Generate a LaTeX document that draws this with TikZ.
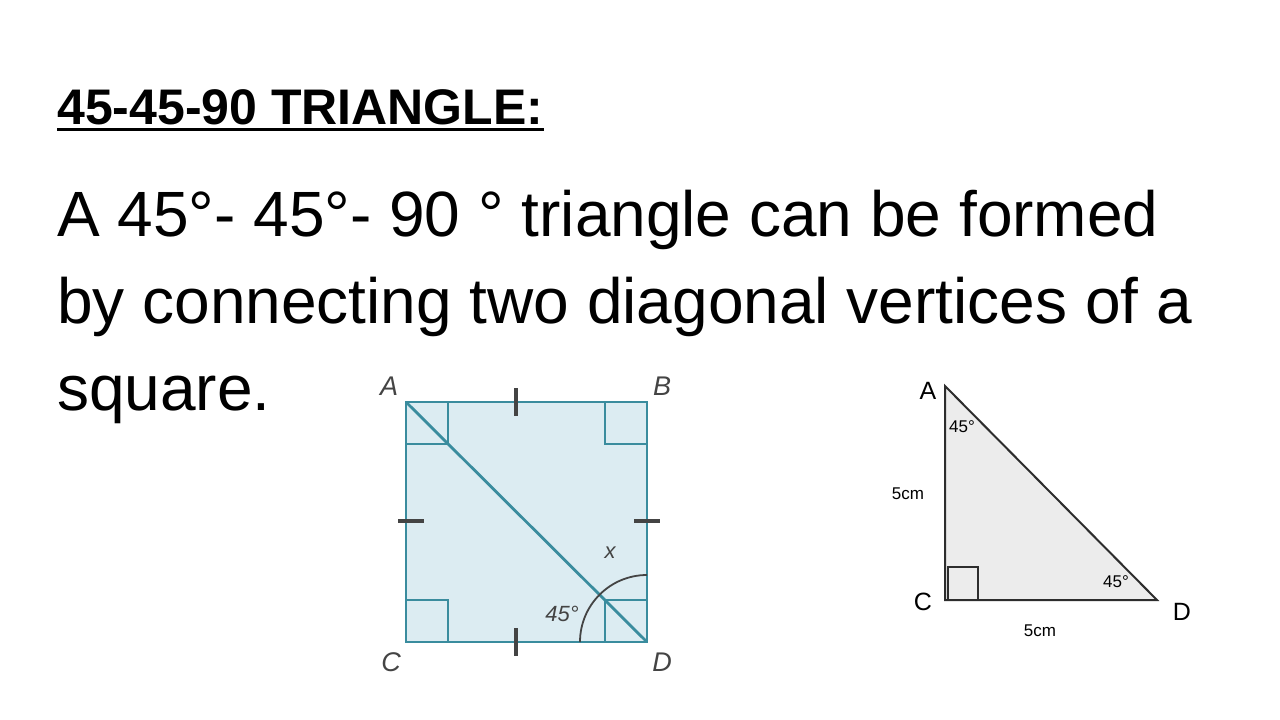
\documentclass[tikz,border=0pt]{standalone}
\usepackage{fontspec}
\setmainfont{Liberation Sans}
\usetikzlibrary{calc,positioning}
\definecolor{sqfill}{RGB}{220,236,242}
\definecolor{sqline}{RGB}{58,140,158}
\definecolor{tick}{RGB}{68,68,68}
\definecolor{trifill}{RGB}{236,236,236}
\definecolor{triline}{RGB}{45,45,45}
\tikzset{%
  txt/.style={anchor=base west,inner sep=0pt,font=\fontsize{64}{72}\selectfont},
  hand/.style={inner sep=0pt,text=tick,font=\fontsize{27}{30}\selectfont\itshape},
  lbl/.style={inner sep=0pt,font=\fontsize{25}{28}\selectfont},
  small/.style={inner sep=0pt,font=\fontsize{17}{20}\selectfont},
  sq/.style={draw=sqline,line width=2.8pt},
  tk/.style={draw=tick,line width=3.5pt},
  tri/.style={draw=triline,line width=2pt}
}
\begin{document}
\begin{tikzpicture}[x=1pt,y=-1pt]
  \useasboundingbox[fill=white] (0,0) rectangle (1280,720);
  % heading and text
  \node[txt,font=\fontsize{50}{58}\selectfont\bfseries] (title) at (57,124) {45-45-90 TRIANGLE:};
  \draw[line width=3pt] ($(title.base west)+(0,5)$) -- ($(title.base east)+(0,5)$);
  \node[txt] (line1) at (57,236) {A 45°- 45°- 90 ° triangle can be formed};
  \node[txt] (line2) at (57,323) {by connecting two diagonal vertices of a};
  \node[txt] (line3) at (57,410) {square.};
  % the square
  \coordinate (A) at (406,402);
  \coordinate (B) at (647,402);
  \coordinate (C) at (406,642);
  \coordinate (D) at (647,642);
  \fill[sqfill] (A) rectangle (D);
  \draw[sq] (A) -- ($(A)+(42,0)$) |- ($(A)+(0,42)$);
  \draw[sq] ($(B)+(-42,0)$) |- ($(B)+(0,42)$);
  \draw[sq] ($(C)+(0,-42)$) -| ($(C)+(42,0)$);
  \draw[sq] ($(D)+(-42,0)$) |- ($(D)+(0,-42)$);
  \draw[sq] (A) -- (B) -- (D) -- (C) -- cycle;
  \draw[sq] (A) -- (D);
  \draw[draw=tick,line width=1.8pt] ($(D)+(-67,0)$) arc[start angle=180,end angle=270,radius=67];
  \foreach \x/\y/\dx/\dy in {516/402/0/14, 516/642/0/14, 411/521/13/0, 647/521/13/0}
    \draw[tk] (\x-\dx,\y-\dy) -- (\x+\dx,\y+\dy);
  \node[hand] (labA) at (389,386) {A};
  \node[hand] (labB) at (662,386) {B};
  \node[hand] (labC) at (391,662) {C};
  \node[hand] (labD) at (662,662) {D};
  \node[hand,font=\fontsize{22}{24}\selectfont\itshape] (labx) at (610,553) {x};
  \node[hand,font=\fontsize{22}{24}\selectfont\itshape] (lab45) at (562,614) {45°};
  % the triangle
  \coordinate (tA) at (945,386);
  \coordinate (tC) at (945,600);
  \coordinate (tD) at (1157,600);
  \fill[trifill] (tA) -- (tC) -- (tD) -- cycle;
  \draw[tri] ($(tC)+(3,0)$) rectangle ($(tC)+(33,-33)$);
  \draw[tri] (tA) -- (tC) -- (tD) -- cycle;
  \node[lbl] (tlabA) at (928,391) {A};
  \node[lbl] (tlabC) at (923,602) {C};
  \node[lbl] (tlabD) at (1182,612) {D};
  \node[small] (side1) at (908,494) {5cm};
  \node[small] (side2) at (1040,631) {5cm};
  \node[small] (angA) at (962,427) {45°};
  \node[small] (angD) at (1116,582) {45°};
\end{tikzpicture}
\end{document}
